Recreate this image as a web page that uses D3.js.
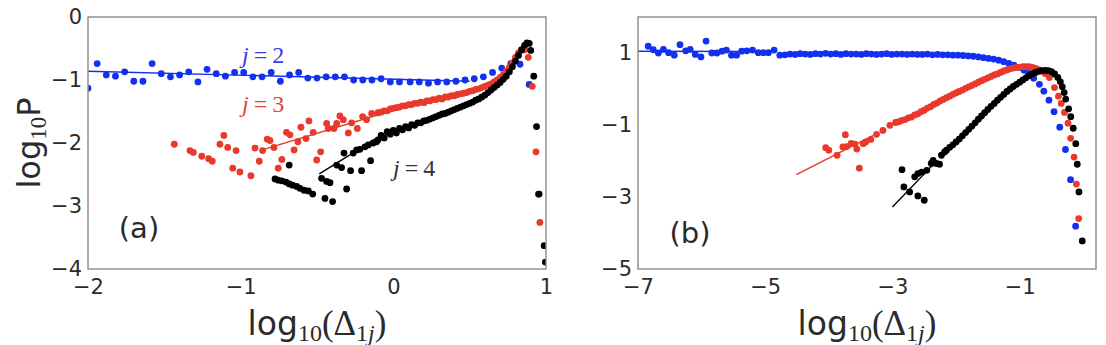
<!DOCTYPE html>
<html><head><meta charset="utf-8">
<script src="https://cdnjs.cloudflare.com/ajax/libs/d3/7.8.5/d3.min.js"></script>
<style>html,body{margin:0;padding:0;background:#fff;}svg{display:block;}</style>
</head><body><svg id="c" width="1106" height="345"></svg>
<script>
// ---------- Panel (a) data ----------
const aTicksX = [-2, -1, 0, 1];
const aTicksY = [0, -1, -2, -3, -4];
const aBlueX = [-2.00,-1.94,-1.88,-1.82,-1.76,-1.70,-1.64,-1.58,-1.52,-1.46,-1.40,-1.34,-1.28,-1.22,-1.16,-1.10,-1.04,-0.98,-0.92,-0.86,-0.80,-0.74,-0.68,-0.62,-0.56,-0.50,-0.44,-0.38,-0.32,-0.26,-0.20,-0.14,-0.08,-0.02,0.04,0.11,0.17,0.23,0.29,0.35,0.41,0.47,0.53,0.59,0.65,0.71,0.77,0.83,0.89,0.95];
const aBlueY = [-1.13,-0.74,-0.92,-0.94,-0.87,-1.02,-1.02,-0.74,-0.90,-0.95,-0.92,-0.87,-1.03,-0.83,-0.90,-0.94,-0.88,-0.88,-0.95,-0.95,-0.88,-1.02,-0.92,-0.88,-0.97,-0.97,-0.95,-0.95,-0.95,-1.00,-1.00,-1.00,-0.98,-1.03,-1.03,-1.03,-1.03,-1.05,-1.03,-1.03,-1.02,-1.00,-0.98,-0.95,-0.88,-0.81,-0.74,-0.75,-1.07,-2.81];
const aRedX = [-1.435,-1.332,-1.31,-1.255,-1.21,-1.186,-1.136,-1.11,-1.085,-1.052,-1.03,-1.005,-0.933,-0.906,-0.878,-0.856,-0.826,-0.808,-0.782,-0.754,-0.73,-0.70,-0.677,-0.65,-0.625,-0.605,-0.572,-0.553,-0.525,-0.502,-0.476,-0.437,-0.426,-0.389,-0.371,-0.35,-0.328,-0.295,-0.273,-0.236,-0.201,-0.175,-0.142,
  -0.10,-0.08,-0.06,-0.04,-0.02,0.00,0.02,0.04,0.06,0.08,0.10,0.12,0.14,0.16,0.18,0.20,0.22,0.24,0.26,0.28,0.30,0.32,0.34,0.36,0.38,0.40,0.42,0.44,0.46,0.48,0.50,0.52,0.54,0.56,0.58,0.60,0.62,0.64,0.66,0.68,0.70,0.72,0.74,0.76,0.78,0.80,0.82,0.84,0.86,
  0.884,0.91,0.934,0.96];
const aRedY = [-2.02,-2.12,-2.15,-2.21,-2.25,-2.29,-2.02,-1.88,-2.07,-2.40,-2.12,-2.46,-2.52,-2.08,-2.29,-2.12,-1.94,-1.96,-2.07,-2.40,-2.26,-1.83,-1.87,-2.11,-1.98,-1.75,-1.93,-1.65,-1.83,-2.27,-2.14,-1.69,-1.77,-1.77,-1.69,-1.57,-1.63,-1.84,-1.68,-1.77,-1.58,-1.63,-1.53,
  -1.52,-1.51,-1.49,-1.49,-1.46,-1.45,-1.44,-1.43,-1.41,-1.41,-1.39,-1.39,-1.37,-1.37,-1.35,-1.36,-1.33,-1.33,-1.31,-1.31,-1.29,-1.30,-1.27,-1.27,-1.25,-1.25,-1.23,-1.22,-1.21,-1.20,-1.18,-1.17,-1.15,-1.14,-1.12,-1.10,-1.08,-1.06,-1.03,-1.00,-0.96,-0.92,-0.86,-0.80,-0.73,-0.64,-0.57,-0.53,-0.52,
  -0.64,-1.10,-2.14,-3.26];
const aBlackX = [-0.775,-0.754,-0.731,-0.703,-0.682,-0.682,-0.66,-0.633,-0.612,-0.585,-0.557,-0.528,-0.47,-0.448,-0.437,-0.415,-0.398,-0.371,-0.339,-0.323,-0.306,-0.28,-0.263,-0.24,-0.219,-0.208,-0.186,-0.164,-0.149,-0.132,-0.11,
  -0.10,-0.08,-0.06,-0.04,-0.02,0.00,0.02,0.04,0.06,0.08,0.10,0.12,0.14,0.16,0.18,0.20,0.22,0.24,0.26,0.28,0.30,0.32,0.34,0.36,0.38,0.40,0.42,0.44,0.46,0.48,0.50,0.52,0.54,0.56,0.58,0.60,0.62,0.64,0.66,0.68,0.70,0.72,0.74,0.76,0.78,0.80,0.82,0.84,0.86,0.875,0.89,
  0.90,0.92,0.938,0.955,0.988,0.996];
const aBlackY = [-2.57,-2.59,-2.60,-2.62,-2.65,-2.35,-2.67,-2.69,-2.72,-2.75,-2.76,-2.81,-2.56,-2.88,-2.61,-2.63,-2.93,-2.35,-2.39,-2.16,-2.73,-2.44,-2.16,-2.11,-2.10,-2.44,-2.06,-2.03,-2.28,-2.00,-1.98,
  -1.95,-1.88,-1.92,-1.82,-1.86,-1.80,-1.84,-1.77,-1.79,-1.74,-1.76,-1.71,-1.72,-1.68,-1.68,-1.65,-1.64,-1.62,-1.60,-1.58,-1.56,-1.54,-1.53,-1.51,-1.49,-1.47,-1.45,-1.43,-1.41,-1.39,-1.37,-1.35,-1.32,-1.30,-1.27,-1.24,-1.20,-1.16,-1.12,-1.08,-1.04,-0.99,-0.94,-0.87,-0.79,-0.70,-0.61,-0.52,-0.45,-0.41,-0.42,
  -0.53,-0.94,-1.74,-2.81,-3.63,-3.89];
const aFitBlueX = [-2.0, 0.5], aFitBlueY = [-0.86, -1.02];
const aFitRedX = [-0.86, 0.0], aFitRedY = [-2.11, -1.48];
const aFitBlackX = [-0.485, 0.0], aFitBlackY = [-2.49, -1.76];

// ---------- Panel (b) data ----------
const bTicksX = [-7, -5, -3, -1];
const bTicksY = [1, -1, -3, -5];
const bBlueX = [-6.84,-6.76,-6.68,-6.60,-6.52,-6.43,-6.34,-6.25,-6.18,-6.10,-6.01,-5.93,-5.84,-5.76,-5.68,-5.61,-5.53,-5.45,-5.37,-5.29,-5.20,-5.11,-5.03,-4.95,-4.86,-4.77,
  -4.69,-4.61,-4.53,-4.45,-4.37,-4.29,-4.21,-4.13,-4.05,-3.97,-3.89,-3.81,-3.73,-3.65,-3.57,-3.49,-3.41,-3.33,-3.25,-3.17,-3.09,-3.01,-2.93,-2.85,-2.77,-2.69,-2.61,-2.53,-2.45,-2.37,-2.29,-2.21,-2.13,-2.05,-1.97,-1.89,-1.81,-1.73,-1.65,-1.57,-1.49,-1.41,-1.33,-1.25,-1.17,-1.09,-1.01,-0.93,-0.86,
  -0.78,-0.69,-0.62,-0.54,-0.46,-0.37,-0.28,-0.20,-0.12];
const bBlueY = [1.19,1.09,1.00,1.10,1.01,0.94,1.23,1.06,1.10,0.96,0.89,1.33,1.00,1.00,1.05,1.08,0.94,0.94,1.05,1.06,1.08,1.01,1.01,1.01,1.08,0.94,
  0.95,0.97,0.96,0.98,0.97,0.96,0.98,0.97,0.99,0.97,0.98,0.96,0.98,0.97,0.97,0.96,0.98,0.97,0.96,0.97,0.98,0.96,0.97,0.97,0.96,0.97,0.96,0.96,0.97,0.95,0.96,0.95,0.95,0.94,0.94,0.93,0.92,0.91,0.89,0.87,0.85,0.83,0.80,0.76,0.71,0.66,0.60,0.52,0.43,
  0.30,0.13,-0.06,-0.31,-0.63,-1.06,-1.68,-2.52,-3.81];
const bRedX = [-4.05,-4.00,-3.87,-3.78,-3.74,-3.72,-3.65,-3.59,-3.56,-3.52,-3.46,-3.42,-3.34,-3.25,-3.15,-3.04,
  -2.95,-2.90,-2.85,-2.80,-2.75,-2.70,-2.65,-2.60,-2.55,-2.50,-2.45,-2.40,-2.35,-2.30,-2.25,-2.20,-2.15,-2.10,-2.05,-2.00,-1.95,-1.90,-1.85,-1.80,-1.75,-1.70,-1.65,-1.60,-1.55,-1.50,-1.45,-1.40,-1.35,-1.30,-1.25,-1.20,-1.15,-1.10,-1.05,-1.00,-0.95,-0.90,-0.85,-0.80,-0.75,-0.70,-0.65,-0.60,
  -0.533,-0.453,-0.39,-0.347,-0.295,-0.24,-0.199,-0.145,-0.108,-0.072];
const bRedY = [-1.63,-1.70,-1.84,-1.61,-1.27,-1.60,-1.51,-1.53,-1.67,-2.20,-1.52,-1.47,-1.40,-1.26,-1.15,-1.01,
  -0.93,-0.91,-0.87,-0.85,-0.80,-0.78,-0.72,-0.69,-0.63,-0.59,-0.53,-0.49,-0.43,-0.39,-0.33,-0.29,-0.24,-0.20,-0.15,-0.11,-0.07,-0.03,0.02,0.06,0.10,0.14,0.19,0.23,0.27,0.31,0.35,0.39,0.42,0.46,0.50,0.53,0.56,0.58,0.60,0.61,0.62,0.62,0.62,0.60,0.57,0.54,0.49,0.43,
  0.32,0.04,-0.20,-0.40,-0.65,-0.95,-1.37,-1.89,-2.64,-3.60];
const bBlackX = [-2.85,-2.82,-2.73,-2.60,-2.50,-2.65,-2.60,-2.54,-2.46,-2.39,-2.36,-2.31,-2.26,-2.23,-2.18,
  -2.15,-2.10,-2.05,-2.00,-1.95,-1.90,-1.85,-1.80,-1.75,-1.70,-1.65,-1.60,-1.55,-1.50,-1.45,-1.40,-1.35,-1.30,-1.25,-1.20,-1.15,-1.10,-1.05,-1.00,-0.95,-0.90,-0.85,-0.80,-0.75,-0.70,-0.65,-0.60,-0.55,-0.50,-0.45,-0.40,-0.36,-0.33,-0.30,
  -0.276,-0.23,-0.197,-0.158,-0.118,-0.095,-0.068,-0.016];
const bBlackY = [-2.24,-2.72,-2.86,-2.97,-3.09,-2.44,-2.35,-2.31,-2.26,-2.07,-1.98,-2.07,-2.09,-1.84,-1.75,
  -1.70,-1.62,-1.55,-1.47,-1.39,-1.30,-1.21,-1.12,-1.03,-0.94,-0.84,-0.75,-0.66,-0.57,-0.48,-0.40,-0.31,-0.23,-0.15,-0.07,0.00,0.07,0.13,0.19,0.25,0.31,0.37,0.42,0.46,0.49,0.51,0.52,0.51,0.48,0.42,0.32,0.20,0.06,-0.10,
  -0.28,-0.55,-0.77,-1.09,-1.52,-2.09,-2.86,-4.22];
const bFitBlueX = [-7.0, -5.0], bFitBlueY = [1.05, 1.04];
const bFitRedX = [-4.51, -3.3], bFitRedY = [-2.38, -1.29];
const bFitBlackX = [-3.0, -2.3], bFitBlackY = [-3.28, -1.99];

// ---------- styling ----------
const C_BLUE = "#1230ee", C_RED = "#e8392b", C_BLACK = "#000000";
const TXT = "#2b2b2b";
const svg = d3.select("#c");
const plotTop = 17, plotBottom = 269;
const fmt = d3.format("d");

function panel(id, xDomain, xRange, yDomain, xTicks, yTicks, series, fits) {
  const x = d3.scaleLinear().domain(xDomain).range(xRange);
  const y = d3.scaleLinear().domain(yDomain).range([plotBottom, plotTop]);
  const g = svg.append("g");
  const clipId = "clip" + id;
  svg.append("clipPath").attr("id", clipId).append("rect")
    .attr("x", xRange[0]).attr("y", plotTop).attr("width", xRange[1]-xRange[0]).attr("height", plotBottom-plotTop);
  const plot = g.append("g").attr("clip-path", `url(#${clipId})`);
  series.forEach(s => {
    plot.append("g").selectAll("circle").data(s.x.map((v,i)=>[v,s.y[i]])).join("circle")
      .attr("cx", d=>x(d[0])).attr("cy", d=>y(d[1])).attr("r", 3.4).attr("fill", s.c);
  });
  fits.forEach(f => {
    plot.append("path").attr("d", d3.line().x(d=>x(d[0])).y(d=>y(d[1]))(f.x.map((v,i)=>[v,f.y[i]])))
      .attr("stroke", f.c).attr("stroke-width", 1.4).attr("fill", "none");
  });
  g.append("rect").attr("x", xRange[0]).attr("y", plotTop).attr("width", xRange[1]-xRange[0]).attr("height", plotBottom-plotTop)
    .attr("fill", "none").attr("stroke", "#8a8a8a").attr("stroke-width", 1.4);
  const ax = g.append("g").attr("transform", `translate(0,${plotBottom})`)
    .call(d3.axisBottom(x).tickValues(xTicks).tickFormat(fmt).tickSize(0).tickPadding(10));
  const ay = g.append("g").attr("transform", `translate(${xRange[0]},0)`)
    .call(d3.axisLeft(y).tickValues(yTicks).tickFormat(fmt).tickSize(0).tickPadding(6));
  [ax, ay].forEach(a => {
    a.select(".domain").remove();
    a.selectAll("text").attr("font-family", "DejaVu Sans").attr("font-size", 21).attr("fill", TXT);
  });
  const xl = g.append("text").attr("x", (xRange[0]+xRange[1])/2).attr("y", 335)
    .attr("text-anchor", "middle").attr("fill", TXT).attr("font-size", 33);
  xl.append("tspan").attr("font-family", "DejaVu Sans").text("log");
  xl.append("tspan").attr("font-family", "Liberation Serif").attr("font-size", 24).attr("dy", 6).text("10");
  xl.append("tspan").attr("font-family", "Liberation Serif").attr("font-size", 35).attr("dy", -6).text("(Δ");
  xl.append("tspan").attr("font-family", "Liberation Serif").attr("font-size", 24).attr("dy", 6).text("1");
  xl.append("tspan").attr("font-family", "Liberation Serif").attr("font-style", "italic").attr("font-size", 24).text("j");
  xl.append("tspan").attr("font-family", "Liberation Serif").attr("font-size", 35).attr("dy", -6).text(")");
  return {x, y, g};
}

const A = panel("a", [-2, 1], [88, 546], [-4, 0], aTicksX, aTicksY,
  [{x:aBlueX,y:aBlueY,c:C_BLUE},{x:aRedX,y:aRedY,c:C_RED},{x:aBlackX,y:aBlackY,c:C_BLACK}],
  [{x:aFitBlueX,y:aFitBlueY,c:C_BLUE},{x:aFitRedX,y:aFitRedY,c:C_RED},{x:aFitBlackX,y:aFitBlackY,c:C_BLACK}]);
const B = panel("b", [-7, 0.2], [638, 1096], [-5, 2], bTicksX, bTicksY,
  [{x:bBlueX,y:bBlueY,c:C_BLUE},{x:bRedX,y:bRedY,c:C_RED},{x:bBlackX,y:bBlackY,c:C_BLACK}],
  [{x:bFitBlueX,y:bFitBlueY,c:C_BLUE},{x:bFitRedX,y:bFitRedY,c:C_RED},{x:bFitBlackX,y:bFitBlackY,c:C_BLACK}]);

const yl = svg.append("text").attr("transform", "translate(40,143) rotate(-90)")
  .attr("text-anchor", "middle").attr("fill", TXT).attr("font-size", 32);
yl.append("tspan").attr("font-family", "DejaVu Sans").text("log");
yl.append("tspan").attr("font-family", "Liberation Serif").attr("font-size", 23).attr("dy", 6).text("10");
yl.append("tspan").attr("font-family", "DejaVu Sans").attr("dy", -6).text("P");

svg.append("text").attr("x", 139).attr("y", 238).attr("text-anchor", "middle")
  .attr("font-family", "DejaVu Sans").attr("font-size", 29).attr("fill", TXT).text("(a)");
svg.append("text").attr("x", 690).attr("y", 243).attr("text-anchor", "middle")
  .attr("font-family", "DejaVu Sans").attr("font-size", 29).attr("fill", TXT).text("(b)");

const jLabels = [{t:"2", c:"#3b3bea", x:242, y:63}, {t:"3", c:"#e0453a", x:242, y:112}, {t:"4", c:"#333333", x:393, y:176}];
jLabels.forEach(l => {
  const t = svg.append("text").attr("x", l.x).attr("y", l.y).attr("fill", l.c)
    .attr("font-family", "Liberation Serif").attr("font-size", 24);
  t.append("tspan").attr("font-style", "italic").text("j");
  t.append("tspan").attr("dx", 5).text("=");
  t.append("tspan").attr("dx", 5).text(l.t);
});
</script></body></html>
